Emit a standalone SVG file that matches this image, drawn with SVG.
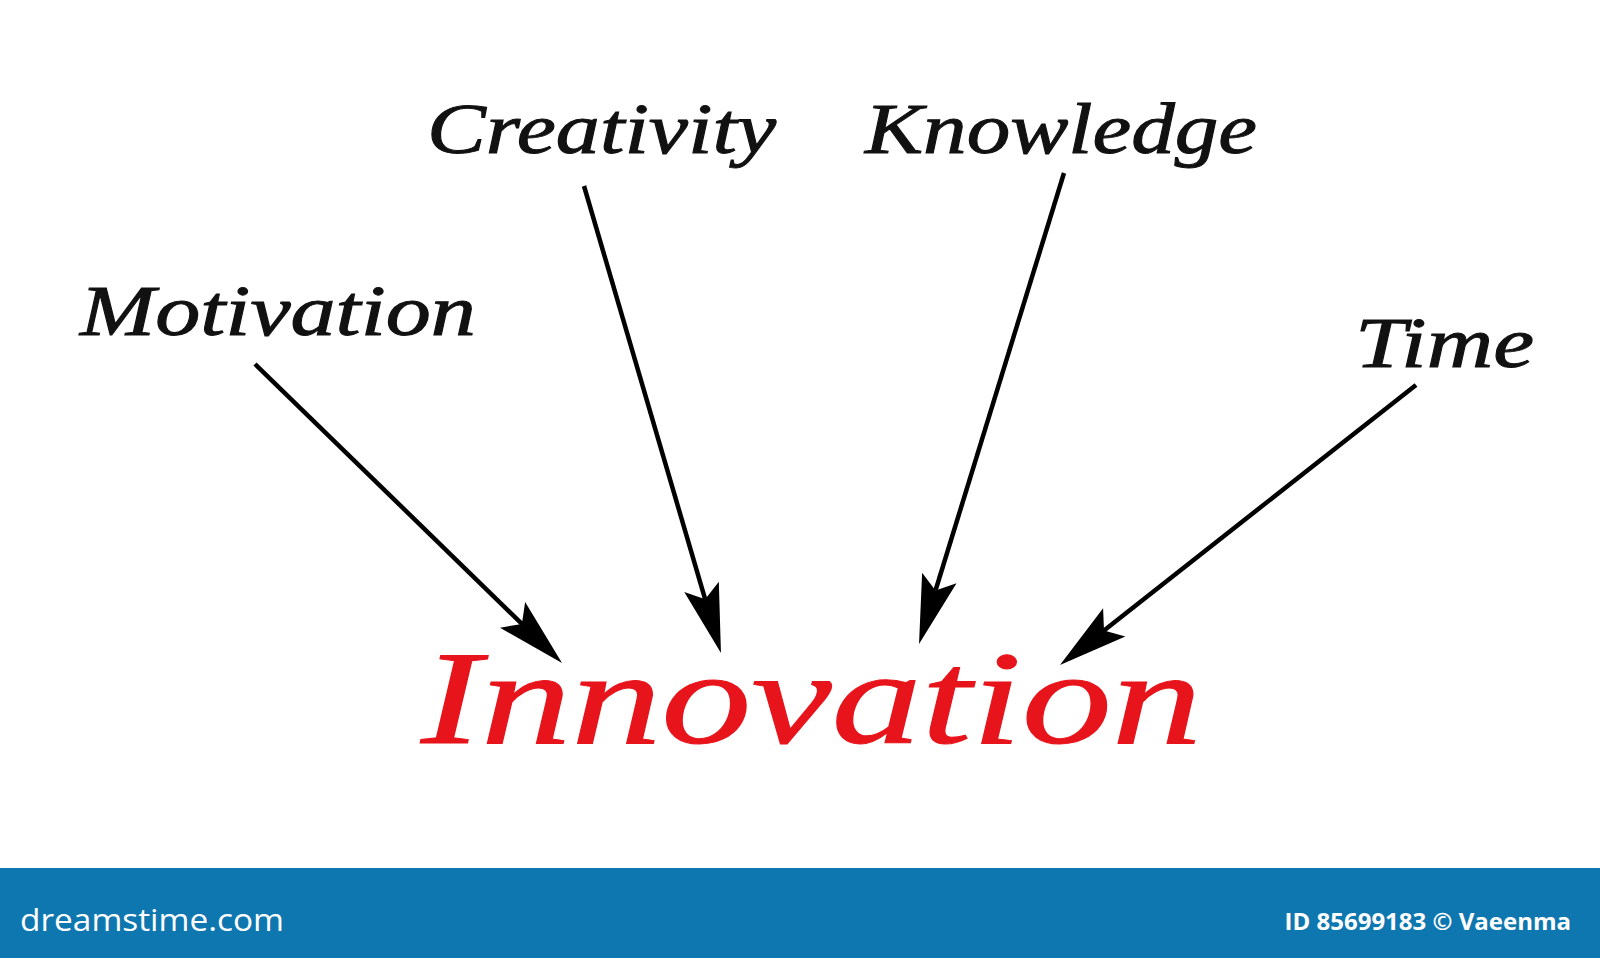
<svg xmlns="http://www.w3.org/2000/svg" width="1600" height="958" viewBox="0 0 1600 958">
<style>
.lbl{font-family:"Liberation Serif","DejaVu Serif",serif;font-style:italic;fill:#111;stroke:#111;stroke-width:1}
.main{font-family:"Liberation Serif","DejaVu Serif",serif;font-style:italic;fill:#e8141b;stroke:#e8141b;stroke-width:1}
.conn line{stroke:#000;stroke-width:4.5;marker-end:url(#ah)}
.foot{font-family:"Open Sans","Liberation Sans",sans-serif;fill:#fff}
</style>
<defs>
<marker id="ah" markerUnits="userSpaceOnUse" orient="auto" refX="14" refY="0" markerWidth="80" markerHeight="50" viewBox="0 -25 80 50" overflow="visible">
<path d="M70,0 L1,-18 L14,0 L1,18 Z" fill="#000"/>
</marker>
</defs>
<rect width="1600" height="958" fill="#fff"/>
<g id="motivation"><text class="lbl" x="80" y="335" font-size="72" textLength="396" lengthAdjust="spacingAndGlyphs">Motivation</text></g>
<g id="creativity"><text class="lbl" x="427" y="153" font-size="72" textLength="349" lengthAdjust="spacingAndGlyphs">Creativity</text></g>
<g id="knowledge"><text class="lbl" x="865" y="153" font-size="72" textLength="392" lengthAdjust="spacingAndGlyphs">Knowledge</text></g>
<g id="time"><text class="lbl" x="1355" y="367" font-size="72" textLength="179" lengthAdjust="spacingAndGlyphs">Time</text></g>
<g id="innovation"><text class="main" x="421" y="743" font-size="134" textLength="781" lengthAdjust="spacingAndGlyphs">Innovation</text></g>
<g id="connectors" class="conn">
<line x1="255" y1="364" x2="521.9" y2="623.9"/>
<line x1="584" y1="186" x2="705.2" y2="599.3"/>
<line x1="1064" y1="173" x2="935.5" y2="590.5"/>
<line x1="1416" y1="385" x2="1104" y2="630.4"/>
</g>
<g id="footer">
<rect x="0" y="868" width="1600" height="90" fill="#0f77b0"/>
<text class="foot" x="20" y="931" font-size="31" textLength="264" lengthAdjust="spacingAndGlyphs">dreamstime.com</text>
<text class="foot" x="1571" y="930" font-size="24" font-weight="bold" text-anchor="end">ID 85699183 © Vaeenma</text>
</g>
</svg>
